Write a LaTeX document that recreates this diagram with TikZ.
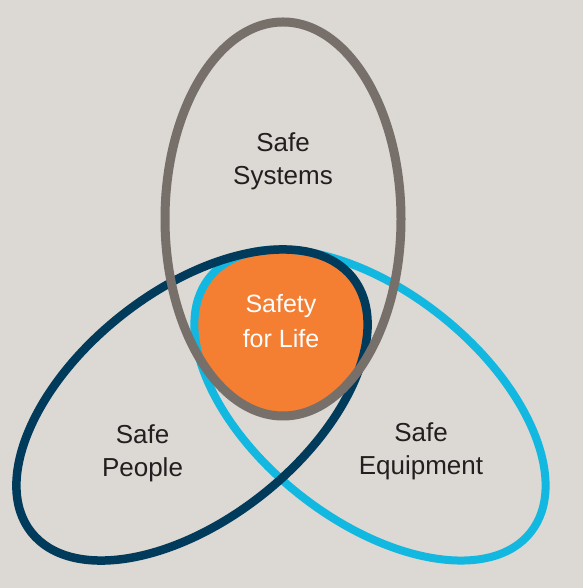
\documentclass[tikz,border=0pt]{standalone}
\usepackage{fontspec}
\setmainfont{Liberation Sans}
\definecolor{bgcol}{HTML}{DCD8D3}
\definecolor{graycol}{HTML}{766F6A}
\definecolor{navycol}{HTML}{003B5C}
\definecolor{cyancol}{HTML}{12B8E0}
\definecolor{orangecol}{HTML}{F47E32}
\definecolor{txtcol}{HTML}{231F20}
\begin{document}
\begin{tikzpicture}[x=1pt,y=1pt,
  lbl/.style={font=\fontsize{26}{33}\selectfont, text=txtcol, align=center, anchor=base, inner sep=0pt},
  ring/.style={line width=8.5pt}]
\fill[bgcol] (0,0) rectangle (583,588);
\useasboundingbox (0,0) rectangle (583,588);
% centres
\coordinate (cs) at (283,369);
\coordinate (cp) at (192,183);
\coordinate (ce) at (370,183);
% orange core = intersection of the three rings
\begin{scope}
  \clip (cs) ellipse [x radius=118, y radius=197];
  \clip[rotate around={38.4:(cp)}] (cp) ellipse [x radius=205, y radius=114];
  \clip[rotate around={-38.4:(ce)}] (ce) ellipse [x radius=205, y radius=114];
  \fill[orangecol] (0,0) rectangle (583,588);
\end{scope}
% rings
\draw[ring, cyancol, line width=8pt, rotate around={-38.4:(ce)}] (ce) ellipse [x radius=205, y radius=114];
\draw[ring, navycol, rotate around={38.4:(cp)}] (cp) ellipse [x radius=205, y radius=114];
\draw[ring, graycol, line width=9pt] (cs) ellipse [x radius=118, y radius=197];
% labels (base anchor = baseline of last line)
\node[lbl] (systems) at (283,403) {Safe\\Systems};
\node[lbl] (people) at (142.5,111) {Safe\\People};
\node[lbl] (equipment) at (421,113) {Safe\\Equipment};
\node[lbl, text=white, font=\fontsize{25}{35}\selectfont] (life) at (281,240) {Safety\\for Life};
\end{tikzpicture}
\end{document}
